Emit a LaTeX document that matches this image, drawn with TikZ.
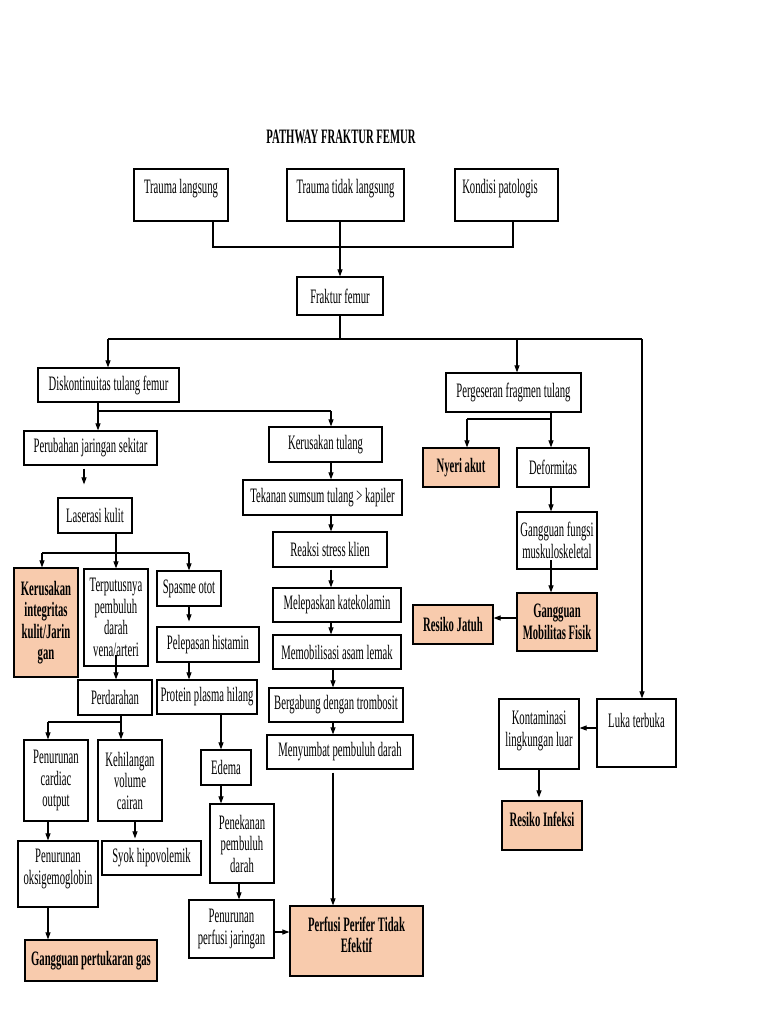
\documentclass[tikz,border=0pt]{standalone}
\usepackage{fontspec}
\setmainfont{Liberation Serif}[FakeStretch=0.52]
\usetikzlibrary{arrows.meta}
\definecolor{peach}{HTML}{F8CBAD}
\newcommand\pwfont{\fontsize{20.5pt}{21.5pt}\selectfont}
\begin{document}
\begin{tikzpicture}[x=1pt,y=-1pt,
  box/.style={draw=black, line width=1.2pt, fill=white, inner sep=0pt, align=center, font=\pwfont},
  dx/.style={box, fill=peach, font=\pwfont\bfseries},
  txt/.style={inner sep=0pt, align=center, font=\pwfont},
  btxt/.style={txt, font=\pwfont\bfseries},
  conn/.style={line width=1.1pt},
  arr/.style={conn, -{Triangle[length=7pt,width=5pt]}},
]
\useasboundingbox (0,0) rectangle (768,1024);
\fill[white] (0,0) rectangle (768,1024);

\node[btxt] (title) at (341,137) {PATHWAY FRAKTUR FEMUR};

% top causes
\node[box, minimum width=94pt, minimum height=52pt] (tl) at (181,195) {};
\node[txt] (tlt) at (181,189) {Trauma langsung};
\node[box, minimum width=117pt, minimum height=52pt] (ttl) at (345.5,195) {};
\node[txt] (ttlt) at (345.5,189) {Trauma tidak langsung};
\node[box, minimum width=103pt, minimum height=52pt] (kp) at (506.5,195) {};
\node[txt] (kpt) at (500,189) {Kondisi patologis};

\node[box, minimum width=86pt, minimum height=38pt] (ff) at (340,296) {Fraktur femur};

\node[box, minimum width=141pt, minimum height=34pt] (dk) at (108.5,385) {Diskontinuitas tulang femur};
\node[box, minimum width=135pt, minimum height=39pt] (pg) at (513.5,392.5) {Pergeseran fragmen tulang};
\node[box, minimum width=133pt, minimum height=34pt] (pj) at (90.5,448) {Perubahan jaringan sekitar};
\node[box, minimum width=113pt, minimum height=35pt] (kt) at (325.5,444.5) {Kerusakan tulang};
\node[box, minimum width=159pt, minimum height=35pt] (ts) at (322.5,497.5) {Tekanan sumsum tulang > kapiler};
\node[dx, minimum width=76pt, minimum height=39pt] (na) at (461,467.5) {Nyeri akut};
\node[box, minimum width=72pt, minimum height=39pt] (df) at (553,467.5) {Deformitas};
\node[box, minimum width=74pt, minimum height=35pt] (lk) at (95,515.5) {Laserasi kulit};
\node[box, minimum width=114pt, minimum height=35pt] (rs) at (330,549.5) {Reaksi stress klien};
\node[box, minimum width=80pt, minimum height=57pt] (gf) at (557,540.5) {Gangguan fungsi\\muskuloskeletal};
\node[dx, minimum width=64pt, minimum height=109pt] (ki) at (46,622.5) {Kerusakan\\integritas\\kulit/Jarin\\gan};
\node[box, minimum width=64pt, minimum height=97pt] (tp) at (116,617.5) {Terputusnya\\pembuluh\\darah\\vena/arteri};
\node[box, minimum width=64pt, minimum height=35pt] (so) at (189,588.5) {Spasme otot};
\node[box, minimum width=128pt, minimum height=34pt] (mk) at (337,605) {Melepaskan katekolamin};
\node[dx, minimum width=80pt, minimum height=58pt] (gm) at (557,622) {Gangguan\\Mobilitas Fisik};
\node[dx, minimum width=80pt, minimum height=39pt] (rj) at (453,624.5) {Resiko Jatuh};
\node[box, minimum width=102pt, minimum height=35pt] (ph) at (208,644.5) {Pelepasan histamin};
\node[box, minimum width=128pt, minimum height=34pt] (ma) at (337,652) {Memobilisasi asam lemak};
\node[box, minimum width=74pt, minimum height=35pt] (pd) at (115,697.5) {Perdarahan};
\node[box, minimum width=100pt, minimum height=34pt] (pp) at (207,697) {Protein plasma hilang};
\node[box, minimum width=134pt, minimum height=34pt] (bt) at (336,705) {Bergabung dengan trombosit};
\node[box, minimum width=146pt, minimum height=34pt] (mp) at (340,752) {Menyumbat pembuluh darah};
\node[box, minimum width=64pt, minimum height=81pt] (pc) at (56,780.5) {Penurunan\\cardiac\\output};
\node[box, minimum width=64pt, minimum height=81pt] (kv) at (130,780.5) {Kehilangan\\volume\\cairan};
\node[box, minimum width=50pt, minimum height=35pt] (ed) at (226,767.5) {Edema};
\node[box, minimum width=79pt, minimum height=68pt] (lt) at (636.5,733) {};
\node[txt] (ltt) at (636.5,720) {Luka terbuka};
\node[box, minimum width=80pt, minimum height=70pt] (kl) at (539,734) {};
\node[txt] (klt) at (539,731) {Kontaminasi\\lingkungan luar};
\node[dx, minimum width=80pt, minimum height=49pt] (ri) at (542,825.5) {};
\node[btxt] (rit) at (542,819) {Resiko Infeksi};
\node[box, minimum width=80pt, minimum height=66pt] (po) at (58,874) {};
\node[txt] (pot) at (58,869) {Penurunan\\oksigemoglobin};
\node[box, minimum width=99pt, minimum height=34pt] (sh) at (151.5,858) {Syok hipovolemik};
\node[box, minimum width=64pt, minimum height=79pt] (pk) at (242,843.5) {Penekanan\\pembuluh\\darah};
\node[box, minimum width=85pt, minimum height=58pt] (pf) at (231.5,929) {Penurunan\\perfusi jaringan};
\node[dx, minimum width=133pt, minimum height=70pt] (pt) at (356.5,941) {};
\node[btxt] (ptt) at (356.5,935) {Perfusi Perifer Tidak\\Efektif};
\node[dx, minimum width=132pt, minimum height=41pt] (gp) at (91,960.5) {Gangguan pertukaran gas};

% connectors: causes -> fraktur
\coordinate (j1) at (213,247); \coordinate (j2) at (513,247);
\draw[conn] (tl.south -| j1) -- (j1) -- (j2) -- (kp.south -| j2);
\draw[arr] (ttl.south -| ff.north) -- (ff.north);

% fraktur -> three branches
\coordinate (hL) at (108,339); \coordinate (hM) at (517,339); \coordinate (hR) at (642,339);
\draw[conn] (ff.south) -- (ff.south |- hL);
\draw[conn] (hL) -- (hR);
\draw[arr] (hL) -- (hL |- dk.north);
\draw[arr] (hM) -- (hM |- pg.north);
\draw[arr] (hR) -- (hR |- lt.north);

% diskontinuitas
\coordinate (d1) at (98,411); \coordinate (d2) at (331,411);
\draw[conn] (d1 |- dk.south) -- (d1) -- (d2);
\draw[arr] (d1) -- (d1 |- pj.north);
\draw[arr] (d2) -- (d2 |- kt.north);

\coordinate (a1) at (84,476);
\draw[arr, shorten <=3pt, shorten >=13pt] (pj.south -| a1) -- (lk.north -| a1);

% laserasi
\coordinate (l0) at (42,553); \coordinate (l1) at (116,553); \coordinate (l2) at (189,553);
\draw[conn] (lk.south -| l1) -- (l1);
\draw[conn] (l0) -- (l2);
\draw[arr] (l0) -- (l0 |- ki.north);
\draw[arr] (l1) -- (l1 |- tp.north);
\draw[arr] (l2) -- (l2 |- so.north);

\coordinate (t1) at (116,655);
\draw[arr] (t1) -- (t1 |- pd.north);
\draw[arr, shorten >=5pt] (so.south) -- (so.south |- ph.north);
\draw[arr] (ph.south -| so.south) -- (so.south |- pp.north);
\coordinate (e1) at (221,0);
\draw[arr] (pp.south -| e1) -- (ed.north -| e1);
\draw[arr] (ed.south -| e1) -- (pk.north -| e1);
\coordinate (e2) at (239,0);
\draw[arr] (pk.south -| e2) -- (pf.north -| e2);
\coordinate (e3) at (0,932);
\draw[arr] (pf.east |- e3) -- (pt.west |- e3);

% perdarahan
\coordinate (p0) at (48,722); \coordinate (p1) at (121,722);
\draw[conn] (pd.south -| p1) -- (p1) -- (p0);
\draw[arr] (p0) -- (p0 |- pc.north);
\draw[arr] (p1) -- (p1 |- kv.north);
\draw[arr] (pc.south -| p0) -- (po.north -| p0);
\coordinate (k1) at (135,0);
\draw[arr, shorten >=2pt] (kv.south -| k1) -- (sh.north -| k1);
\draw[arr] (po.south -| p0) -- (gp.north -| p0);

% kerusakan tulang chain
\coordinate (c1) at (331,0);
\draw[arr] (kt.south -| c1) -- (ts.north -| c1);
\draw[arr] (ts.south -| c1) -- (rs.north -| c1);
\draw[arr, shorten <=2pt] (rs.south -| c1) -- (mk.north -| c1);
\draw[arr] (mk.south -| c1) -- (ma.north -| c1);
\coordinate (c2) at (333,0);
\draw[arr] (ma.south -| c2) -- (bt.north -| c2);
\draw[arr] (bt.south -| c2) -- (mp.north -| c2);
\draw[arr, shorten <=3pt] (mp.south -| c2) -- (pt.north -| c2);

% pergeseran
\coordinate (g0) at (467,419); \coordinate (g1) at (551,419);
\draw[conn] (pg.south -| g1) -- (g1) -- (g0);
\draw[arr] (g0) -- (g0 |- na.north);
\draw[arr] (g1) -- (g1 |- df.north);
\draw[arr] (df.south -| g1) -- (gf.north -| g1);
\coordinate (g2) at (551,560);
\draw[arr] (g2) -- (g2 |- gm.north);
\coordinate (m1) at (0,618);
\draw[arr] (gm.west |- m1) -- (rj.east |- m1);

% luka terbuka
\coordinate (m2) at (0,728);
\draw[arr] (lt.west |- m2) -- (kl.east |- m2);
\coordinate (m3) at (539,0);
\draw[arr, shorten >=3pt] (kl.south -| m3) -- (ri.north -| m3);
\end{tikzpicture}
\end{document}
